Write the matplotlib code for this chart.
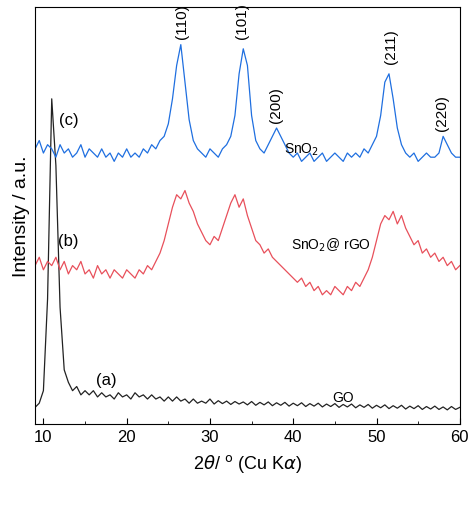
import numpy as np
import matplotlib
matplotlib.use("Agg")
import matplotlib.pyplot as plt
from matplotlib.ticker import MultipleLocator

plt.rcParams['font.family'] = ['Liberation Sans', 'DejaVu Sans']

# 2theta grid (degrees), 0.5 step
two_theta = np.arange(9, 60.01, 0.5)

# intensities (arbitrary units, stacked)
go = [4, 5, 8, 30, 78, 62, 28, 13, 10, 8, 9, 7, 8, 7, 8, 6.5, 7.5, 6.5, 7, 6,
      7.5, 6.5, 7, 6, 7.5, 6.5, 7, 6, 7, 6, 6.5, 5.5, 6.5, 5.5, 6.5, 5.5, 6, 5, 6, 5,
      5.5, 5, 6, 4.8, 5.6, 4.9, 5.5, 4.7, 5.4, 4.8, 5.3, 4.6, 5.4, 4.5, 5.2, 4.6, 5.3, 4.4,
      5.1, 4.5, 5.2, 4.3, 5.0, 4.4, 5.1, 4.2, 4.9, 4.3, 5.0, 4.1, 4.8, 4.2, 4.9, 4.0,
      4.7, 4.1, 4.8, 3.9, 4.6, 4.0, 4.7, 3.8, 4.5, 3.9, 4.6, 3.7, 4.4, 3.8, 4.5, 3.6,
      4.3, 3.7, 4.4, 3.5, 4.2, 3.6, 4.3, 3.5, 4.1, 3.4, 4.2, 3.5, 4.0]
sno2_rgo = [38, 40, 37, 39, 38, 40, 37, 39, 36, 38, 37, 39, 36, 37, 35, 38, 36, 37, 35, 37,
            36, 35, 37, 36, 35, 37, 36, 38, 37, 39, 41, 44, 48, 52, 55, 54, 56, 53, 51, 48,
            46, 44, 43, 45, 44, 47, 50, 53, 55, 52, 54, 50, 47, 44, 43, 41, 42, 40, 39, 38,
            37, 36, 35, 34, 35, 33, 34, 32, 33, 31, 32, 31, 33, 32, 31, 33, 32, 34, 33, 35,
            37, 40, 44, 48, 50, 49, 51, 48, 50, 47, 45, 43, 44, 41, 42, 40, 41, 39, 40, 38,
            39, 37, 38]
sno2 = [66, 68, 65, 67, 66, 64, 67, 65, 66, 64, 65, 67, 64, 66, 65, 64, 66, 64, 65, 63,
        65, 64, 66, 64, 65, 64, 66, 65, 67, 66, 68, 69, 72, 78, 86, 91, 82, 73, 68, 66,
        65, 64, 66, 65, 64, 66, 67, 69, 74, 84, 90, 86, 74, 68, 66, 65, 67, 69, 71, 69,
        67, 65, 64, 65, 63, 64, 65, 63, 64, 65, 63, 64, 65, 64, 63, 65, 64, 65, 64, 66,
        65, 67, 69, 74, 82, 84, 78, 71, 67, 65, 64, 65, 63, 64, 65, 64, 64, 65, 69, 67,
        65, 64, 64]

peak_pos = [26.6, 33.9, 37.9, 51.8, 57.9]
peak_lab = ['(110)', '(101)', '(200)', '(211)', '(220)']
peak_y = [91, 91, 71, 85, 69]

fig = plt.figure(figsize=(4.74, 5.06), dpi=100)
ax = fig.add_axes([0.074, 0.16, 0.896, 0.824])

ax.plot(two_theta, go, color='#222222', lw=0.9)
ax.plot(two_theta, sno2_rgo, color='#e8505b', lw=0.9)
ax.plot(two_theta, sno2, color='#1f6fe0', lw=0.9)

for p, lab, yv in zip(peak_pos, peak_lab, peak_y):
    ax.text(p, yv + 1.5, lab, rotation=90, ha='center', va='bottom', fontsize=11)

ax.text(13, 72, '(c)', fontsize=12, ha='center')
ax.text(41, 65, 'SnO$_2$', fontsize=10, ha='center')
ax.text(13, 43, '(b)', fontsize=12, ha='center')
ax.text(44.5, 42, 'SnO$_2$@ rGO', fontsize=10, ha='center')
ax.text(17.5, 9.5, '(a)', fontsize=12, ha='center')
ax.text(46, 5.5, 'GO', fontsize=10, ha='center')

ax.set_xlim(9, 60)
ax.set_ylim(0, 100)
ax.xaxis.set_major_locator(MultipleLocator(10))
ax.xaxis.set_minor_locator(MultipleLocator(5))
ax.set_yticks([])
ax.tick_params(axis='x', direction='in', labelsize=12, length=4)
ax.tick_params(axis='x', which='minor', direction='in', length=2)
ax.set_xlabel(r'2$\theta$/ $^{\rm o}$ (Cu K$\alpha$)', fontsize=13, labelpad=6)
ax.set_ylabel('Intensity / a.u.', fontsize=14, labelpad=4)

fig.savefig('out.png', dpi=100)
